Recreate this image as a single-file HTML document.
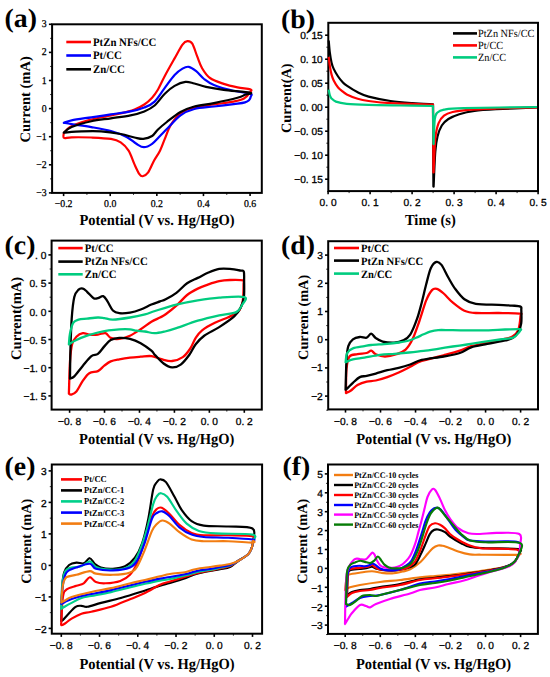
<!DOCTYPE html>
<html><head><meta charset="utf-8"><style>
html,body{margin:0;padding:0;background:#fff;}
svg{display:block;text-rendering:geometricPrecision;}
</style></head><body>
<svg width="550" height="677" viewBox="0 0 550 677">
<rect width="550" height="677" fill="#fff"/>
<rect x="52.1" y="24.3" width="209.7" height="168.6" fill="none" stroke="#000" stroke-width="2.0"/>
<line x1="63.6" y1="192.9" x2="63.6" y2="196.1" stroke="#000" stroke-width="1.6"/>
<line x1="110.22" y1="192.9" x2="110.22" y2="196.1" stroke="#000" stroke-width="1.6"/>
<line x1="156.84" y1="192.9" x2="156.84" y2="196.1" stroke="#000" stroke-width="1.6"/>
<line x1="203.46" y1="192.9" x2="203.46" y2="196.1" stroke="#000" stroke-width="1.6"/>
<line x1="250.08" y1="192.9" x2="250.08" y2="196.1" stroke="#000" stroke-width="1.6"/>
<line x1="86.91" y1="192.9" x2="86.91" y2="194.9" stroke="#000" stroke-width="0.8"/>
<line x1="133.53" y1="192.9" x2="133.53" y2="194.9" stroke="#000" stroke-width="0.8"/>
<line x1="180.15" y1="192.9" x2="180.15" y2="194.9" stroke="#000" stroke-width="0.8"/>
<line x1="226.77" y1="192.9" x2="226.77" y2="194.9" stroke="#000" stroke-width="0.8"/>
<line x1="48.9" y1="192.9" x2="52.1" y2="192.9" stroke="#000" stroke-width="1.6"/>
<line x1="48.9" y1="164.8" x2="52.1" y2="164.8" stroke="#000" stroke-width="1.6"/>
<line x1="48.9" y1="136.7" x2="52.1" y2="136.7" stroke="#000" stroke-width="1.6"/>
<line x1="48.9" y1="108.6" x2="52.1" y2="108.6" stroke="#000" stroke-width="1.6"/>
<line x1="48.9" y1="80.5" x2="52.1" y2="80.5" stroke="#000" stroke-width="1.6"/>
<line x1="48.9" y1="52.4" x2="52.1" y2="52.4" stroke="#000" stroke-width="1.6"/>
<line x1="48.9" y1="24.3" x2="52.1" y2="24.3" stroke="#000" stroke-width="1.6"/>
<line x1="50.1" y1="178.85" x2="52.1" y2="178.85" stroke="#000" stroke-width="0.8"/>
<line x1="50.1" y1="150.75" x2="52.1" y2="150.75" stroke="#000" stroke-width="0.8"/>
<line x1="50.1" y1="122.65" x2="52.1" y2="122.65" stroke="#000" stroke-width="0.8"/>
<line x1="50.1" y1="94.55" x2="52.1" y2="94.55" stroke="#000" stroke-width="0.8"/>
<line x1="50.1" y1="66.45" x2="52.1" y2="66.45" stroke="#000" stroke-width="0.8"/>
<line x1="50.1" y1="38.35" x2="52.1" y2="38.35" stroke="#000" stroke-width="0.8"/>
<text transform="translate(63.6,207) scale(1,1.06)" x="0" y="0" font-family='"Liberation Serif", serif' font-size="9.8" font-weight="normal" text-anchor="middle" stroke="#000" stroke-width="0.25">−0.2</text>
<text transform="translate(110.22,207) scale(1,1.06)" x="0" y="0" font-family='"Liberation Serif", serif' font-size="9.8" font-weight="normal" text-anchor="middle" stroke="#000" stroke-width="0.25">0.0</text>
<text transform="translate(156.84,207) scale(1,1.06)" x="0" y="0" font-family='"Liberation Serif", serif' font-size="9.8" font-weight="normal" text-anchor="middle" stroke="#000" stroke-width="0.25">0.2</text>
<text transform="translate(203.46,207) scale(1,1.06)" x="0" y="0" font-family='"Liberation Serif", serif' font-size="9.8" font-weight="normal" text-anchor="middle" stroke="#000" stroke-width="0.25">0.4</text>
<text transform="translate(250.08,207) scale(1,1.06)" x="0" y="0" font-family='"Liberation Serif", serif' font-size="9.8" font-weight="normal" text-anchor="middle" stroke="#000" stroke-width="0.25">0.6</text>
<text transform="translate(46.6,195.9) scale(1,1.06)" x="0" y="0" font-family='"Liberation Serif", serif' font-size="9.8" font-weight="normal" text-anchor="end" stroke="#000" stroke-width="0.25">−3</text>
<text transform="translate(46.6,167.8) scale(1,1.06)" x="0" y="0" font-family='"Liberation Serif", serif' font-size="9.8" font-weight="normal" text-anchor="end" stroke="#000" stroke-width="0.25">−2</text>
<text transform="translate(46.6,139.7) scale(1,1.06)" x="0" y="0" font-family='"Liberation Serif", serif' font-size="9.8" font-weight="normal" text-anchor="end" stroke="#000" stroke-width="0.25">−1</text>
<text transform="translate(46.6,111.6) scale(1,1.06)" x="0" y="0" font-family='"Liberation Serif", serif' font-size="9.8" font-weight="normal" text-anchor="end" stroke="#000" stroke-width="0.25">0</text>
<text transform="translate(46.6,83.5) scale(1,1.06)" x="0" y="0" font-family='"Liberation Serif", serif' font-size="9.8" font-weight="normal" text-anchor="end" stroke="#000" stroke-width="0.25">1</text>
<text transform="translate(46.6,55.4) scale(1,1.06)" x="0" y="0" font-family='"Liberation Serif", serif' font-size="9.8" font-weight="normal" text-anchor="end" stroke="#000" stroke-width="0.25">2</text>
<text transform="translate(46.6,27.3) scale(1,1.06)" x="0" y="0" font-family='"Liberation Serif", serif' font-size="9.8" font-weight="normal" text-anchor="end" stroke="#000" stroke-width="0.25">3</text>
<text transform="translate(157,225.2) scale(1,1.06)" x="0" y="0" font-family='"Liberation Serif", serif' font-size="14.5" font-weight="bold" text-anchor="middle" >Potential (V vs. Hg/HgO)</text>
<text transform="translate(29.5,99.4) rotate(-90)" x="0" y="0" font-family='"Liberation Serif", serif' font-size="14.5" font-weight="bold" text-anchor="middle">Current (mA)</text>
<path d="M63.8,133 C64.78,132.02 66.75,128.9 69.7,127.1 C72.65,125.3 76.27,123.83 81.5,122.2 C86.73,120.57 94.57,118.77 101.1,117.3 C107.63,115.83 115.13,114.7 120.7,113.4 C126.27,112.1 130.57,110.98 134.5,109.5 C138.43,108.02 141.37,106.47 144.3,104.5 C147.23,102.53 149.82,100.2 152.1,97.7 C154.38,95.2 155.88,93.12 158,89.5 C160.12,85.88 162.03,81.18 164.8,76 C167.57,70.82 171.65,63.63 174.6,58.4 C177.55,53.17 180.37,47.48 182.5,44.6 C184.63,41.72 185.77,41.25 187.4,41.1 C189.03,40.95 190.67,41.15 192.3,43.7 C193.93,46.25 195.57,52.32 197.2,56.4 C198.83,60.48 199.97,64.6 202.1,68.2 C204.23,71.8 206.4,75.38 210,78 C213.6,80.62 219.12,82.33 223.7,83.9 C228.28,85.47 233.08,86.48 237.5,87.4 C241.92,88.32 248.05,88.67 250.2,89.4 C252.35,90.13 251.43,90.28 250.4,91.8 C249.37,93.32 246.82,96.87 244,98.5 C241.18,100.13 238.52,100.6 233.5,101.6 C228.48,102.6 220.43,103.52 213.9,104.5 C207.37,105.48 199.87,106.02 194.3,107.5 C188.73,108.98 184.43,110.47 180.5,113.4 C176.57,116.33 173.32,120.85 170.7,125.1 C168.08,129.35 166.58,134.63 164.8,138.9 C163.02,143.17 161.78,147.1 160,150.7 C158.22,154.3 156.07,156.9 154.1,160.5 C152.13,164.1 150.1,169.68 148.2,172.3 C146.3,174.92 144.17,175.88 142.7,176.2 C141.23,176.52 140.77,176.17 139.4,174.2 C138.03,172.23 136.3,168.32 134.5,164.4 C132.7,160.48 130.9,154.37 128.6,150.7 C126.3,147.03 123.65,144.37 120.7,142.4 C117.75,140.43 115.8,139.72 110.9,138.9 C106,138.08 97.85,137.77 91.3,137.5 C84.75,137.23 76.15,137.23 71.6,137.3 C67.05,137.37 65.3,138.62 64,137.9 C62.7,137.18 63.83,133.82 63.8,133" fill="none" stroke="#ff0000" stroke-width="2.2" stroke-linejoin="round" stroke-linecap="round"/>
<path d="M63.8,122.8 C65.1,122.38 67.02,121.22 71.6,120.3 C76.18,119.38 84.75,118.28 91.3,117.3 C97.85,116.32 104.37,115.38 110.9,114.4 C117.43,113.42 124.93,112.55 130.5,111.4 C136.07,110.25 140.28,109.13 144.3,107.5 C148.32,105.87 151.18,104.88 154.6,101.6 C158.02,98.32 161.47,92.23 164.8,87.8 C168.13,83.37 171.65,78.2 174.6,75 C177.55,71.8 180.13,69.97 182.5,68.6 C184.87,67.23 186.52,66.38 188.8,66.8 C191.08,67.22 193.65,69.07 196.2,71.1 C198.75,73.13 201.15,76.7 204.1,79 C207.05,81.3 209,82.93 213.9,84.9 C218.8,86.87 227.45,89.33 233.5,90.8 C239.55,92.27 247.32,92.75 250.2,93.7 C253.08,94.65 251,95.4 250.8,96.5 C250.6,97.6 249.97,99.32 249,100.3 C248.03,101.28 246.92,101.83 245,102.4 C243.08,102.97 242.68,103.02 237.5,103.7 C232.32,104.38 221.1,105.62 213.9,106.5 C206.7,107.38 199.87,107.53 194.3,109 C188.73,110.47 185.08,111.95 180.5,115.3 C175.92,118.65 170.22,125.65 166.8,129.1 C163.38,132.55 162.45,133.55 160,136 C157.55,138.45 154.78,141.93 152.1,143.8 C149.42,145.67 146.52,147.2 143.9,147.2 C141.28,147.2 139.28,145.52 136.4,143.8 C133.52,142.08 130.85,139.03 126.6,136.9 C122.35,134.77 116.78,132.63 110.9,131 C105.02,129.37 97.85,128.23 91.3,127.1 C84.75,125.97 76.18,124.92 71.6,124.2 C67.02,123.48 65.1,123.03 63.8,122.8" fill="none" stroke="#0000ff" stroke-width="2.2" stroke-linejoin="round" stroke-linecap="round"/>
<path d="M63.8,132.6 C65.1,131.68 67.02,129 71.6,127.1 C76.18,125.2 84.75,122.67 91.3,121.2 C97.85,119.73 104.37,119.28 110.9,118.3 C117.43,117.32 124.93,116.45 130.5,115.3 C136.07,114.15 140.28,113.03 144.3,111.4 C148.32,109.77 151.18,108.45 154.6,105.5 C158.02,102.55 161.47,96.97 164.8,93.7 C168.13,90.43 171.17,87.87 174.6,85.9 C178.03,83.93 182.12,82.3 185.4,81.9 C188.68,81.5 190.87,82.68 194.3,83.5 C197.73,84.32 201.1,85.75 206,86.8 C210.9,87.85 216.33,88.82 223.7,89.8 C231.07,90.78 246.65,91.87 250.2,92.7 C253.75,93.53 247.12,93.95 245,94.8 C242.88,95.65 242.68,96.42 237.5,97.8 C232.32,99.18 221.1,101.65 213.9,103.1 C206.7,104.55 199.87,105.02 194.3,106.5 C188.73,107.98 185.08,109.42 180.5,112 C175.92,114.58 170.55,119.08 166.8,122 C163.05,124.92 160.45,127.17 158,129.5 C155.55,131.83 154.55,134.43 152.1,136 C149.65,137.57 146.23,138.65 143.3,138.9 C140.37,139.15 138.27,138.32 134.5,137.5 C130.73,136.68 126.27,135.02 120.7,134 C115.13,132.98 107.63,131.83 101.1,131.4 C94.57,130.97 87.72,131.2 81.5,131.4 C75.28,131.6 66.75,132.4 63.8,132.6" fill="none" stroke="#000000" stroke-width="2.2" stroke-linejoin="round" stroke-linecap="round"/>
<line x1="66.3" y1="42" x2="91" y2="42" stroke="#ff0000" stroke-width="2.6"/>
<text transform="translate(93,45.5) scale(1,1.06)" x="0" y="0" font-family='"Liberation Serif", serif' font-size="10.8" font-weight="bold" text-anchor="start" >PtZn NFs/CC</text>
<line x1="66.3" y1="55.5" x2="91" y2="55.5" stroke="#0000ff" stroke-width="2.6"/>
<text transform="translate(93,59) scale(1,1.06)" x="0" y="0" font-family='"Liberation Serif", serif' font-size="10.8" font-weight="bold" text-anchor="start" >Pt/CC</text>
<line x1="66.3" y1="69.3" x2="91" y2="69.3" stroke="#000000" stroke-width="2.6"/>
<text transform="translate(93,72.8) scale(1,1.06)" x="0" y="0" font-family='"Liberation Serif", serif' font-size="10.8" font-weight="bold" text-anchor="start" >Zn/CC</text>
<text transform="translate(4.5,27.3) scale(1,0.965)" x="0" y="0" font-family='"Liberation Serif", serif' font-size="27.8" font-weight="bold" text-anchor="start" >(a)</text>
<rect x="328.3" y="22.8" width="209.7" height="168.3" fill="none" stroke="#000" stroke-width="2.0"/>
<line x1="328.1" y1="191.1" x2="328.1" y2="194.3" stroke="#000" stroke-width="1.6"/>
<line x1="370.1" y1="191.1" x2="370.1" y2="194.3" stroke="#000" stroke-width="1.6"/>
<line x1="412.1" y1="191.1" x2="412.1" y2="194.3" stroke="#000" stroke-width="1.6"/>
<line x1="454.1" y1="191.1" x2="454.1" y2="194.3" stroke="#000" stroke-width="1.6"/>
<line x1="496.1" y1="191.1" x2="496.1" y2="194.3" stroke="#000" stroke-width="1.6"/>
<line x1="538.1" y1="191.1" x2="538.1" y2="194.3" stroke="#000" stroke-width="1.6"/>
<line x1="349.1" y1="191.1" x2="349.1" y2="193.1" stroke="#000" stroke-width="0.8"/>
<line x1="391.1" y1="191.1" x2="391.1" y2="193.1" stroke="#000" stroke-width="0.8"/>
<line x1="433.1" y1="191.1" x2="433.1" y2="193.1" stroke="#000" stroke-width="0.8"/>
<line x1="475.1" y1="191.1" x2="475.1" y2="193.1" stroke="#000" stroke-width="0.8"/>
<line x1="517.1" y1="191.1" x2="517.1" y2="193.1" stroke="#000" stroke-width="0.8"/>
<line x1="325.1" y1="179.2" x2="328.3" y2="179.2" stroke="#000" stroke-width="1.6"/>
<line x1="325.1" y1="155.2" x2="328.3" y2="155.2" stroke="#000" stroke-width="1.6"/>
<line x1="325.1" y1="131.2" x2="328.3" y2="131.2" stroke="#000" stroke-width="1.6"/>
<line x1="325.1" y1="107.2" x2="328.3" y2="107.2" stroke="#000" stroke-width="1.6"/>
<line x1="325.1" y1="83.2" x2="328.3" y2="83.2" stroke="#000" stroke-width="1.6"/>
<line x1="325.1" y1="59.2" x2="328.3" y2="59.2" stroke="#000" stroke-width="1.6"/>
<line x1="325.1" y1="35.2" x2="328.3" y2="35.2" stroke="#000" stroke-width="1.6"/>
<line x1="326.3" y1="167.2" x2="328.3" y2="167.2" stroke="#000" stroke-width="0.8"/>
<line x1="326.3" y1="143.2" x2="328.3" y2="143.2" stroke="#000" stroke-width="0.8"/>
<line x1="326.3" y1="119.2" x2="328.3" y2="119.2" stroke="#000" stroke-width="0.8"/>
<line x1="326.3" y1="95.2" x2="328.3" y2="95.2" stroke="#000" stroke-width="0.8"/>
<line x1="326.3" y1="71.2" x2="328.3" y2="71.2" stroke="#000" stroke-width="0.8"/>
<line x1="326.3" y1="47.2" x2="328.3" y2="47.2" stroke="#000" stroke-width="0.8"/>
<text x="328.1" y="206" font-family='"Liberation Sans", sans-serif' font-size="10.2" font-weight="normal" text-anchor="middle" stroke="#000" stroke-width="0.3">0. 0</text>
<text x="370.1" y="206" font-family='"Liberation Sans", sans-serif' font-size="10.2" font-weight="normal" text-anchor="middle" stroke="#000" stroke-width="0.3">0. 1</text>
<text x="412.1" y="206" font-family='"Liberation Sans", sans-serif' font-size="10.2" font-weight="normal" text-anchor="middle" stroke="#000" stroke-width="0.3">0. 2</text>
<text x="454.1" y="206" font-family='"Liberation Sans", sans-serif' font-size="10.2" font-weight="normal" text-anchor="middle" stroke="#000" stroke-width="0.3">0. 3</text>
<text x="496.1" y="206" font-family='"Liberation Sans", sans-serif' font-size="10.2" font-weight="normal" text-anchor="middle" stroke="#000" stroke-width="0.3">0. 4</text>
<text x="538.1" y="206" font-family='"Liberation Sans", sans-serif' font-size="10.2" font-weight="normal" text-anchor="middle" stroke="#000" stroke-width="0.3">0. 5</text>
<text x="322.8" y="38.7" font-family='"Liberation Sans", sans-serif' font-size="10.2" font-weight="normal" text-anchor="end" stroke="#000" stroke-width="0.3">0. 15</text>
<text x="322.8" y="62.7" font-family='"Liberation Sans", sans-serif' font-size="10.2" font-weight="normal" text-anchor="end" stroke="#000" stroke-width="0.3">0. 10</text>
<text x="322.8" y="86.7" font-family='"Liberation Sans", sans-serif' font-size="10.2" font-weight="normal" text-anchor="end" stroke="#000" stroke-width="0.3">0. 05</text>
<text x="322.8" y="110.7" font-family='"Liberation Sans", sans-serif' font-size="10.2" font-weight="normal" text-anchor="end" stroke="#000" stroke-width="0.3">0. 00</text>
<text x="322.8" y="134.7" font-family='"Liberation Sans", sans-serif' font-size="10.2" font-weight="normal" text-anchor="end" stroke="#000" stroke-width="0.3">−0. 05</text>
<text x="322.8" y="158.7" font-family='"Liberation Sans", sans-serif' font-size="10.2" font-weight="normal" text-anchor="end" stroke="#000" stroke-width="0.3">−0. 10</text>
<text x="322.8" y="182.7" font-family='"Liberation Sans", sans-serif' font-size="10.2" font-weight="normal" text-anchor="end" stroke="#000" stroke-width="0.3">−0. 15</text>
<text transform="translate(430.4,224.6) scale(1,1.06)" x="0" y="0" font-family='"Liberation Serif", serif' font-size="14.5" font-weight="bold" text-anchor="middle" >Time (s)</text>
<text transform="translate(291.3,98.3) rotate(-90)" x="0" y="0" font-family='"Liberation Serif", serif' font-size="14.3" font-weight="bold" text-anchor="middle">Current(A)</text>
<path d="M328.7,40.5 C328.88,42.5 329.33,48.85 329.8,52.5 C330.27,56.15 330.85,59.67 331.5,62.4 C332.15,65.13 332.6,66.55 333.7,68.9 C334.8,71.25 336.63,74.32 338.1,76.5 C339.57,78.68 341.05,80.47 342.5,82 C343.95,83.53 344.27,83.98 346.8,85.7 C349.33,87.42 354.07,90.48 357.7,92.3 C361.33,94.12 363.13,95.15 368.6,96.6 C374.07,98.05 383.22,99.9 390.5,101 C397.78,102.1 405.22,102.65 412.3,103.2 C419.38,103.75 429.55,104.12 433,104.3 L433.4,186.6 L433.6,186.6 L433.6,186.6 C433.88,180.78 434.65,160.05 435.3,151.7 C435.95,143.35 436.42,140.87 437.5,136.5 C438.58,132.13 439.98,128.42 441.8,125.5 C443.62,122.58 445.48,120.88 448.4,119 C451.32,117.12 454.95,115.55 459.3,114.2 C463.65,112.85 468.32,111.73 474.5,110.9 C480.68,110.07 485.98,109.78 496.4,109.2 C506.82,108.62 530.23,107.7 537,107.4" fill="none" stroke="#000000" stroke-width="2.2" stroke-linejoin="round"/>
<path d="M328.7,56.9 C328.88,58.35 329.33,62.68 329.8,65.6 C330.27,68.52 330.85,71.92 331.5,74.4 C332.15,76.88 332.6,78.32 333.7,80.5 C334.8,82.68 336.63,85.68 338.1,87.5 C339.57,89.32 341.05,90.25 342.5,91.4 C343.95,92.55 344.27,93.17 346.8,94.4 C349.33,95.63 354.07,97.7 357.7,98.8 C361.33,99.9 363.13,100.27 368.6,101 C374.07,101.73 379.77,102.62 390.5,103.2 C401.23,103.78 425.92,104.28 433,104.5 L433.4,172.5 L433.6,172.5 L433.6,172.5 C433.88,166.85 434.48,146.78 435.3,138.6 C436.12,130.42 437.05,127.22 438.5,123.4 C439.95,119.58 441.63,117.6 444,115.7 C446.37,113.8 448.7,112.98 452.7,112 C456.7,111.02 460.72,110.38 468,109.8 C475.28,109.22 484.9,108.9 496.4,108.5 C507.9,108.1 530.23,107.58 537,107.4" fill="none" stroke="#ff0000" stroke-width="2.2" stroke-linejoin="round"/>
<path d="M328.7,89.6 C328.88,90.52 329.33,93.63 329.8,95.1 C330.27,96.57 330.48,97.32 331.5,98.4 C332.52,99.48 333.35,100.7 335.9,101.6 C338.45,102.5 341.35,103.25 346.8,103.8 C352.25,104.35 359.73,104.62 368.6,104.9 C377.47,105.18 389.27,105.32 400,105.5 C410.73,105.68 427.5,105.92 433,106 L433.4,144.1 L433.6,144.1 L433.6,144.1 C433.8,139.92 434.15,124.27 434.8,119 C435.45,113.73 435.97,114.07 437.5,112.5 C439.03,110.93 439.65,110.33 444,109.6 C448.35,108.87 448.1,108.53 463.6,108.1 C479.1,107.67 524.77,107.18 537,107" fill="none" stroke="#00cc7f" stroke-width="2.2" stroke-linejoin="round"/>
<line x1="453" y1="33.4" x2="477" y2="33.4" stroke="#000000" stroke-width="2.6"/>
<text transform="translate(478,37.3) scale(1,1.06)" x="0" y="0" font-family='"Liberation Serif", serif' font-size="10.3" font-weight="normal" text-anchor="start" >PtZn NFs/CC</text>
<line x1="453" y1="45.4" x2="477" y2="45.4" stroke="#ff0000" stroke-width="2.6"/>
<text transform="translate(478,49.3) scale(1,1.06)" x="0" y="0" font-family='"Liberation Serif", serif' font-size="10.3" font-weight="normal" text-anchor="start" >Pt/CC</text>
<line x1="453" y1="57.4" x2="477" y2="57.4" stroke="#00cc7f" stroke-width="2.6"/>
<text transform="translate(478,61.3) scale(1,1.06)" x="0" y="0" font-family='"Liberation Serif", serif' font-size="10.3" font-weight="normal" text-anchor="start" >Zn/CC</text>
<text transform="translate(281,28.2) scale(1,0.965)" x="0" y="0" font-family='"Liberation Serif", serif' font-size="27.8" font-weight="bold" text-anchor="start" >(b)</text>
<rect x="51.6" y="240.6" width="210.2" height="169" fill="none" stroke="#000" stroke-width="2.0"/>
<line x1="69.6" y1="409.6" x2="69.6" y2="412.8" stroke="#000" stroke-width="1.6"/>
<line x1="104.54" y1="409.6" x2="104.54" y2="412.8" stroke="#000" stroke-width="1.6"/>
<line x1="139.48" y1="409.6" x2="139.48" y2="412.8" stroke="#000" stroke-width="1.6"/>
<line x1="174.42" y1="409.6" x2="174.42" y2="412.8" stroke="#000" stroke-width="1.6"/>
<line x1="209.36" y1="409.6" x2="209.36" y2="412.8" stroke="#000" stroke-width="1.6"/>
<line x1="244.3" y1="409.6" x2="244.3" y2="412.8" stroke="#000" stroke-width="1.6"/>
<line x1="87.07" y1="409.6" x2="87.07" y2="411.6" stroke="#000" stroke-width="0.8"/>
<line x1="122.01" y1="409.6" x2="122.01" y2="411.6" stroke="#000" stroke-width="0.8"/>
<line x1="156.95" y1="409.6" x2="156.95" y2="411.6" stroke="#000" stroke-width="0.8"/>
<line x1="191.89" y1="409.6" x2="191.89" y2="411.6" stroke="#000" stroke-width="0.8"/>
<line x1="226.83" y1="409.6" x2="226.83" y2="411.6" stroke="#000" stroke-width="0.8"/>
<line x1="48.4" y1="254.9" x2="51.6" y2="254.9" stroke="#000" stroke-width="1.6"/>
<line x1="48.4" y1="283.1" x2="51.6" y2="283.1" stroke="#000" stroke-width="1.6"/>
<line x1="48.4" y1="311.3" x2="51.6" y2="311.3" stroke="#000" stroke-width="1.6"/>
<line x1="48.4" y1="339.5" x2="51.6" y2="339.5" stroke="#000" stroke-width="1.6"/>
<line x1="48.4" y1="367.7" x2="51.6" y2="367.7" stroke="#000" stroke-width="1.6"/>
<line x1="48.4" y1="395.9" x2="51.6" y2="395.9" stroke="#000" stroke-width="1.6"/>
<line x1="49.6" y1="269" x2="51.6" y2="269" stroke="#000" stroke-width="0.8"/>
<line x1="49.6" y1="297.2" x2="51.6" y2="297.2" stroke="#000" stroke-width="0.8"/>
<line x1="49.6" y1="325.4" x2="51.6" y2="325.4" stroke="#000" stroke-width="0.8"/>
<line x1="49.6" y1="353.6" x2="51.6" y2="353.6" stroke="#000" stroke-width="0.8"/>
<line x1="49.6" y1="381.8" x2="51.6" y2="381.8" stroke="#000" stroke-width="0.8"/>
<text x="69.6" y="425" font-family='"Liberation Sans", sans-serif' font-size="10.2" font-weight="normal" text-anchor="middle" stroke="#000" stroke-width="0.3">−0. 8</text>
<text x="104.54" y="425" font-family='"Liberation Sans", sans-serif' font-size="10.2" font-weight="normal" text-anchor="middle" stroke="#000" stroke-width="0.3">−0. 6</text>
<text x="139.48" y="425" font-family='"Liberation Sans", sans-serif' font-size="10.2" font-weight="normal" text-anchor="middle" stroke="#000" stroke-width="0.3">−0. 4</text>
<text x="174.42" y="425" font-family='"Liberation Sans", sans-serif' font-size="10.2" font-weight="normal" text-anchor="middle" stroke="#000" stroke-width="0.3">−0. 2</text>
<text x="209.36" y="425" font-family='"Liberation Sans", sans-serif' font-size="10.2" font-weight="normal" text-anchor="middle" stroke="#000" stroke-width="0.3">0. 0</text>
<text x="244.3" y="425" font-family='"Liberation Sans", sans-serif' font-size="10.2" font-weight="normal" text-anchor="middle" stroke="#000" stroke-width="0.3">0. 2</text>
<text x="46.4" y="287.3" font-family='"Liberation Sans", sans-serif' font-size="10.2" font-weight="normal" text-anchor="end" stroke="#000" stroke-width="0.3">0. 5</text>
<text x="46.4" y="315.5" font-family='"Liberation Sans", sans-serif' font-size="10.2" font-weight="normal" text-anchor="end" stroke="#000" stroke-width="0.3">0. 0</text>
<text x="46.4" y="343.7" font-family='"Liberation Sans", sans-serif' font-size="10.2" font-weight="normal" text-anchor="end" stroke="#000" stroke-width="0.3">−0. 5</text>
<text x="46.4" y="371.9" font-family='"Liberation Sans", sans-serif' font-size="10.2" font-weight="normal" text-anchor="end" stroke="#000" stroke-width="0.3">−1. 0</text>
<text x="46.4" y="400.1" font-family='"Liberation Sans", sans-serif' font-size="10.2" font-weight="normal" text-anchor="end" stroke="#000" stroke-width="0.3">−1. 5</text>
<text transform="translate(156.7,443.6) scale(1,1.06)" x="0" y="0" font-family='"Liberation Serif", serif' font-size="14.5" font-weight="bold" text-anchor="middle" >Potential (V vs. Hg/HgO)</text>
<text transform="translate(20.9,318.4) rotate(-90)" x="0" y="0" font-family='"Liberation Serif", serif' font-size="14.6" font-weight="bold" text-anchor="middle">Current(mA)</text>
<path d="M68.9,393.6 C69.08,388.23 69.47,369.62 70,361.4 C70.53,353.18 71.03,348.4 72.1,344.3 C73.17,340.2 74.6,338.67 76.4,336.8 C78.2,334.93 80.75,333.47 82.9,333.1 C85.05,332.73 86.8,334.35 89.3,334.6 C91.8,334.85 95.22,334.85 97.9,334.6 C100.58,334.35 103.27,332.55 105.4,333.1 C107.53,333.65 108.38,336.93 110.7,337.9 C113.02,338.87 116.08,339.27 119.3,338.9 C122.52,338.53 126.43,337.3 130,335.7 C133.57,334.1 137.13,331.62 140.7,329.3 C144.27,326.98 148.18,323.77 151.4,321.8 C154.62,319.83 157.62,318.75 160,317.5 C162.38,316.25 162.97,316.27 165.7,314.3 C168.43,312.33 172.83,308.92 176.4,305.7 C179.97,302.48 183.53,297.85 187.1,295 C190.67,292.15 194.23,290.38 197.8,288.6 C201.37,286.82 204.93,285.55 208.5,284.3 C212.07,283.05 215.63,281.82 219.2,281.1 C222.77,280.38 225.98,280.12 229.9,280 C233.82,279.88 240.42,279.73 242.7,280.4 C244.98,281.07 243.6,280.5 243.6,284 C243.6,287.5 243.38,297.07 242.7,301.4 C242.02,305.73 240.92,307.85 239.5,310 C238.08,312.15 236.15,313.05 234.2,314.3 C232.25,315.55 231.02,316.08 227.8,317.5 C224.58,318.92 219.18,320.67 214.9,322.8 C210.62,324.93 205.3,327.8 202.1,330.3 C198.9,332.8 197.67,334.77 195.7,337.8 C193.73,340.83 192.45,345.28 190.3,348.5 C188.15,351.72 185.83,355.02 182.8,357.1 C179.77,359.18 175.67,360.65 172.1,361 C168.53,361.35 164.85,360.02 161.4,359.2 C157.95,358.38 154.85,356.52 151.4,356.1 C147.95,355.68 144.27,356.45 140.7,356.7 C137.13,356.95 133.57,357.17 130,357.6 C126.43,358.03 122.52,358.67 119.3,359.3 C116.08,359.93 113.2,360.33 110.7,361.4 C108.2,362.47 106.43,364.08 104.3,365.7 C102.17,367.32 100.4,369.85 97.9,371.1 C95.4,372.35 91.8,371.6 89.3,373.2 C86.8,374.8 85.05,377.67 82.9,380.7 C80.75,383.73 78.37,389.08 76.4,391.4 C74.43,393.72 72.35,394.23 71.1,394.6 C69.85,394.97 69.27,393.77 68.9,393.6" fill="none" stroke="#ff0000" stroke-width="2.3" stroke-linejoin="round" stroke-linecap="round"/>
<path d="M70,378.6 C70.07,373.95 70.12,360.7 70.4,350.7 C70.68,340.7 71.05,327.53 71.7,318.6 C72.35,309.67 73.15,301.93 74.3,297.1 C75.45,292.27 77.17,291.02 78.6,289.6 C80.03,288.18 81.48,288.23 82.9,288.6 C84.32,288.97 85.32,290.2 87.1,291.8 C88.88,293.4 91.8,297.13 93.6,298.2 C95.4,299.27 96.3,298.55 97.9,298.2 C99.5,297.85 101.6,295.57 103.2,296.1 C104.8,296.63 105.88,299 107.5,301.4 C109.12,303.8 110.93,308.53 112.9,310.5 C114.87,312.47 116.45,312.85 119.3,313.2 C122.15,313.55 126.43,313.22 130,312.6 C133.57,311.98 137.13,310.85 140.7,309.5 C144.27,308.15 148.18,305.85 151.4,304.5 C154.62,303.15 157.62,302.27 160,301.4 C162.38,300.53 162.97,300.73 165.7,299.3 C168.43,297.87 172.83,295.48 176.4,292.8 C179.97,290.12 183.53,285.68 187.1,283.2 C190.67,280.72 194.23,279.68 197.8,277.9 C201.37,276.12 204.93,274 208.5,272.5 C212.07,271 215.63,269.5 219.2,268.9 C222.77,268.3 226.33,268.62 229.9,268.9 C233.47,269.18 238.28,270.15 240.6,270.6 C242.92,271.05 243.22,270.03 243.8,271.6 C244.38,273.17 244.08,275.75 244.1,280 C244.12,284.25 244.48,292.47 243.9,297.1 C243.32,301.73 242.22,304.58 240.6,307.8 C238.98,311.02 237.77,313.18 234.2,316.4 C230.63,319.62 224.2,323.88 219.2,327.1 C214.2,330.32 208.12,332.85 204.2,335.7 C200.28,338.55 198.2,340.98 195.7,344.2 C193.2,347.42 191.7,351.6 189.2,355 C186.7,358.4 183.55,362.53 180.7,364.6 C177.85,366.67 174.95,367.58 172.1,367.4 C169.25,367.22 166.45,365.57 163.6,363.5 C160.75,361.43 157.03,357.13 155,355 C152.97,352.87 153.78,352.67 151.4,350.7 C149.02,348.73 144.27,345.17 140.7,343.2 C137.13,341.23 133.57,339.78 130,338.9 C126.43,338.02 122.52,337.72 119.3,337.9 C116.08,338.08 113.2,338.58 110.7,340 C108.2,341.42 106.43,344.08 104.3,346.4 C102.17,348.72 100.05,352.28 97.9,353.9 C95.75,355.52 93.9,354.13 91.4,356.1 C88.9,358.07 85.75,362.32 82.9,365.7 C80.05,369.08 76.45,374.25 74.3,376.4 C72.15,378.55 70.72,378.23 70,378.6" fill="none" stroke="#000000" stroke-width="2.3" stroke-linejoin="round" stroke-linecap="round"/>
<path d="M68.9,344.3 C69.08,342.52 69.28,337.17 70,333.6 C70.72,330.03 71.77,325.23 73.2,322.9 C74.63,320.57 76.28,320.32 78.6,319.6 C80.92,318.88 83.88,318.95 87.1,318.6 C90.32,318.25 95.03,317.58 97.9,317.5 C100.77,317.42 101.8,317.75 104.3,318.1 C106.8,318.45 108.62,319.7 112.9,319.6 C117.18,319.5 124.65,318.38 130,317.5 C135.35,316.62 140.83,315.38 145,314.3 C149.17,313.22 149.77,312.62 155,311 C160.23,309.38 169.27,306.38 176.4,304.6 C183.53,302.82 190.67,301.47 197.8,300.3 C204.93,299.13 211.42,298.13 219.2,297.6 C226.98,297.07 240.7,295.87 244.5,297.1 C248.3,298.33 243.37,302.5 242,305 C240.63,307.5 240.1,310.38 236.3,312.1 C232.5,313.82 225.62,313.87 219.2,315.3 C212.78,316.73 204.93,318.55 197.8,320.7 C190.67,322.85 181.87,326.4 176.4,328.2 C170.93,330 168.65,330.67 165,331.5 C161.35,332.33 157.83,333.2 154.5,333.2 C151.17,333.2 148.02,331.92 145,331.5 C141.98,331.08 138.9,331.07 136.4,330.7 C133.9,330.33 132.85,329.53 130,329.3 C127.15,329.07 122.87,329.12 119.3,329.3 C115.73,329.48 112.17,329.87 108.6,330.4 C105.03,330.93 101.48,331.62 97.9,332.5 C94.32,333.38 90.68,334.45 87.1,335.7 C83.52,336.95 79.43,338.57 76.4,340 C73.37,341.43 70.15,343.58 68.9,344.3" fill="none" stroke="#00cc7f" stroke-width="2.3" stroke-linejoin="round" stroke-linecap="round"/>
<line x1="58.3" y1="248.1" x2="82.7" y2="248.1" stroke="#ff0000" stroke-width="2.6"/>
<text transform="translate(84.8,251.9) scale(1,1.06)" x="0" y="0" font-family='"Liberation Serif", serif' font-size="10.75" font-weight="bold" text-anchor="start" >Pt/CC</text>
<line x1="58.3" y1="261.6" x2="82.7" y2="261.6" stroke="#000000" stroke-width="2.6"/>
<text transform="translate(84.8,265.4) scale(1,1.06)" x="0" y="0" font-family='"Liberation Serif", serif' font-size="10.75" font-weight="bold" text-anchor="start" >PtZn NFs/CC</text>
<line x1="58.3" y1="274.3" x2="82.7" y2="274.3" stroke="#00cc7f" stroke-width="2.6"/>
<text transform="translate(84.8,278.1) scale(1,1.06)" x="0" y="0" font-family='"Liberation Serif", serif' font-size="10.75" font-weight="bold" text-anchor="start" >Zn/CC</text>
<text x="46.4" y="259.1" font-family='"Liberation Sans", sans-serif' font-size="10.2" font-weight="normal" text-anchor="end" stroke="#000" stroke-width="0.3">. 0</text>
<text transform="translate(4.6,254.1) scale(1,0.965)" x="0" y="0" font-family='"Liberation Serif", serif' font-size="27.8" font-weight="bold" text-anchor="start" >(c)</text>
<rect x="328.2" y="241.2" width="209.8" height="168.2" fill="none" stroke="#000" stroke-width="2.0"/>
<line x1="345.5" y1="409.4" x2="345.5" y2="412.6" stroke="#000" stroke-width="1.6"/>
<line x1="380.52" y1="409.4" x2="380.52" y2="412.6" stroke="#000" stroke-width="1.6"/>
<line x1="415.54" y1="409.4" x2="415.54" y2="412.6" stroke="#000" stroke-width="1.6"/>
<line x1="450.56" y1="409.4" x2="450.56" y2="412.6" stroke="#000" stroke-width="1.6"/>
<line x1="485.58" y1="409.4" x2="485.58" y2="412.6" stroke="#000" stroke-width="1.6"/>
<line x1="520.6" y1="409.4" x2="520.6" y2="412.6" stroke="#000" stroke-width="1.6"/>
<line x1="363.01" y1="409.4" x2="363.01" y2="411.4" stroke="#000" stroke-width="0.8"/>
<line x1="398.03" y1="409.4" x2="398.03" y2="411.4" stroke="#000" stroke-width="0.8"/>
<line x1="433.05" y1="409.4" x2="433.05" y2="411.4" stroke="#000" stroke-width="0.8"/>
<line x1="468.07" y1="409.4" x2="468.07" y2="411.4" stroke="#000" stroke-width="0.8"/>
<line x1="503.09" y1="409.4" x2="503.09" y2="411.4" stroke="#000" stroke-width="0.8"/>
<line x1="325" y1="255.1" x2="328.2" y2="255.1" stroke="#000" stroke-width="1.6"/>
<line x1="325" y1="283.3" x2="328.2" y2="283.3" stroke="#000" stroke-width="1.6"/>
<line x1="325" y1="311.5" x2="328.2" y2="311.5" stroke="#000" stroke-width="1.6"/>
<line x1="325" y1="339.7" x2="328.2" y2="339.7" stroke="#000" stroke-width="1.6"/>
<line x1="325" y1="367.9" x2="328.2" y2="367.9" stroke="#000" stroke-width="1.6"/>
<line x1="325" y1="396.1" x2="328.2" y2="396.1" stroke="#000" stroke-width="1.6"/>
<line x1="326.2" y1="269.2" x2="328.2" y2="269.2" stroke="#000" stroke-width="0.8"/>
<line x1="326.2" y1="297.4" x2="328.2" y2="297.4" stroke="#000" stroke-width="0.8"/>
<line x1="326.2" y1="325.6" x2="328.2" y2="325.6" stroke="#000" stroke-width="0.8"/>
<line x1="326.2" y1="353.8" x2="328.2" y2="353.8" stroke="#000" stroke-width="0.8"/>
<line x1="326.2" y1="382" x2="328.2" y2="382" stroke="#000" stroke-width="0.8"/>
<line x1="326.2" y1="410.2" x2="328.2" y2="410.2" stroke="#000" stroke-width="0.8"/>
<text x="345.5" y="425" font-family='"Liberation Sans", sans-serif' font-size="10.2" font-weight="normal" text-anchor="middle" stroke="#000" stroke-width="0.3">−0. 8</text>
<text x="380.52" y="425" font-family='"Liberation Sans", sans-serif' font-size="10.2" font-weight="normal" text-anchor="middle" stroke="#000" stroke-width="0.3">−0. 6</text>
<text x="415.54" y="425" font-family='"Liberation Sans", sans-serif' font-size="10.2" font-weight="normal" text-anchor="middle" stroke="#000" stroke-width="0.3">−0. 4</text>
<text x="450.56" y="425" font-family='"Liberation Sans", sans-serif' font-size="10.2" font-weight="normal" text-anchor="middle" stroke="#000" stroke-width="0.3">−0. 2</text>
<text x="485.58" y="425" font-family='"Liberation Sans", sans-serif' font-size="10.2" font-weight="normal" text-anchor="middle" stroke="#000" stroke-width="0.3">0. 0</text>
<text x="520.6" y="425" font-family='"Liberation Sans", sans-serif' font-size="10.2" font-weight="normal" text-anchor="middle" stroke="#000" stroke-width="0.3">0. 2</text>
<text x="322.8" y="258.6" font-family='"Liberation Sans", sans-serif' font-size="10.2" font-weight="normal" text-anchor="end" stroke="#000" stroke-width="0.3">3</text>
<text x="322.8" y="286.8" font-family='"Liberation Sans", sans-serif' font-size="10.2" font-weight="normal" text-anchor="end" stroke="#000" stroke-width="0.3">2</text>
<text x="322.8" y="315" font-family='"Liberation Sans", sans-serif' font-size="10.2" font-weight="normal" text-anchor="end" stroke="#000" stroke-width="0.3">1</text>
<text x="322.8" y="343.2" font-family='"Liberation Sans", sans-serif' font-size="10.2" font-weight="normal" text-anchor="end" stroke="#000" stroke-width="0.3">0</text>
<text x="322.8" y="371.4" font-family='"Liberation Sans", sans-serif' font-size="10.2" font-weight="normal" text-anchor="end" stroke="#000" stroke-width="0.3">−1</text>
<text x="322.8" y="399.6" font-family='"Liberation Sans", sans-serif' font-size="10.2" font-weight="normal" text-anchor="end" stroke="#000" stroke-width="0.3">−2</text>
<text transform="translate(433.8,443.7) scale(1,1.06)" x="0" y="0" font-family='"Liberation Serif", serif' font-size="14.5" font-weight="bold" text-anchor="middle" >Potential (V vs. Hg/HgO)</text>
<text transform="translate(307.5,317.4) rotate(-90)" x="0" y="0" font-family='"Liberation Serif", serif' font-size="14.3" font-weight="bold" text-anchor="middle">Current (mA)</text>
<path d="M346,393.1 C346.08,389.08 345.92,375.1 346.5,369 C347.08,362.9 347.67,358.97 349.5,356.5 C351.33,354.03 354.63,354.78 357.5,354.2 C360.37,353.62 364.42,353.58 366.7,353 C368.98,352.42 369.68,350.5 371.2,350.7 C372.72,350.9 373.5,353.23 375.8,354.2 C378.1,355.17 381.55,356.5 385,356.5 C388.45,356.5 393.07,355.35 396.5,354.2 C399.93,353.05 402.93,352.08 405.6,349.6 C408.27,347.12 410.2,344.07 412.5,339.3 C414.8,334.53 417.12,327.48 419.4,321 C421.68,314.52 424.1,305.55 426.2,300.4 C428.3,295.25 430.22,292.02 432,290.1 C433.78,288.18 434.95,288.33 436.9,288.9 C438.85,289.47 441.03,291.2 443.7,293.5 C446.37,295.8 449.45,299.83 452.9,302.7 C456.35,305.57 460.58,308.98 464.4,310.7 C468.22,312.42 470.08,312.62 475.8,313 C481.52,313.38 491.43,312.9 498.7,313 C505.97,313.1 515.77,313.1 519.4,313.6 C523.03,314.1 520.7,313.25 520.5,316 C520.3,318.75 519.53,326.68 518.2,330.1 C516.87,333.52 514.98,334.97 512.5,336.5 C510.02,338.03 507.5,338.27 503.3,339.3 C499.1,340.33 492.65,341.55 487.3,342.7 C481.95,343.85 475.78,344.87 471.2,346.2 C466.62,347.53 464.38,349.18 459.8,350.7 C455.22,352.22 450.05,353.58 443.7,355.3 C437.35,357.02 427.28,359.08 421.7,361 C416.12,362.92 414.03,364.88 410.2,366.8 C406.37,368.72 402.52,370.78 398.7,372.5 C394.88,374.22 391.12,375.77 387.3,377.1 C383.48,378.43 379.23,379.75 375.8,380.5 C372.37,381.25 369.75,380.83 366.7,381.6 C363.65,382.37 360.18,383.57 357.5,385.1 C354.82,386.63 352.52,389.47 350.6,390.8 C348.68,392.13 346.77,392.72 346,393.1" fill="none" stroke="#ff0000" stroke-width="2.3" stroke-linejoin="round" stroke-linecap="round"/>
<path d="M345.6,389.7 C345.75,384.73 346.05,367.15 346.5,359.9 C346.95,352.65 347.23,349.63 348.3,346.2 C349.37,342.77 350.98,340.83 352.9,339.3 C354.82,337.77 357.5,337.27 359.8,337 C362.1,336.73 364.8,338.27 366.7,337.7 C368.6,337.13 369.68,333.53 371.2,333.6 C372.72,333.67 373.88,336.77 375.8,338.1 C377.72,339.43 379.63,340.83 382.7,341.6 C385.77,342.37 390.77,342.9 394.2,342.7 C397.63,342.5 400.63,341.73 403.3,340.4 C405.97,339.07 407.9,338.32 410.2,334.7 C412.5,331.08 415.18,324.03 417.1,318.7 C419.02,313.37 420.18,308.43 421.7,302.7 C423.22,296.97 424.68,290.03 426.2,284.3 C427.72,278.57 429.1,272.03 430.8,268.3 C432.5,264.57 434.62,262.47 436.4,261.9 C438.18,261.33 439.52,262.3 441.5,264.9 C443.48,267.5 446.02,273.5 448.3,277.5 C450.58,281.5 452.52,285.28 455.2,288.9 C457.88,292.52 460.97,296.72 464.4,299.2 C467.83,301.68 470.08,302.85 475.8,303.8 C481.52,304.75 492.67,304.6 498.7,304.9 C504.73,305.2 508.37,305.32 512,305.6 C515.63,305.88 518.95,305.87 520.5,306.6 C522.05,307.33 521.18,307.22 521.3,310 C521.42,312.78 521.72,319.57 521.2,323.3 C520.68,327.03 519.65,329.93 518.2,332.4 C516.75,334.87 514.6,336.77 512.5,338.1 C510.4,339.43 509.8,339.43 505.6,340.4 C501.4,341.37 493.03,342.75 487.3,343.9 C481.57,345.05 475.78,345.78 471.2,347.3 C466.62,348.82 464.38,351.47 459.8,353 C455.22,354.53 450.05,355.35 443.7,356.5 C437.35,357.65 427.28,358.57 421.7,359.9 C416.12,361.23 414.03,363.17 410.2,364.5 C406.37,365.83 402.52,366.95 398.7,367.9 C394.88,368.85 391.12,369.25 387.3,370.2 C383.48,371.15 379.23,372.65 375.8,373.6 C372.37,374.55 369.37,375.32 366.7,375.9 C364.03,376.48 362.1,375.95 359.8,377.1 C357.5,378.25 354.82,381.08 352.9,382.8 C350.98,384.52 349.52,386.25 348.3,387.4 C347.08,388.55 346.05,389.32 345.6,389.7" fill="none" stroke="#000000" stroke-width="2.3" stroke-linejoin="round" stroke-linecap="round"/>
<path d="M345.6,362.2 C345.87,360.67 345.98,355.3 347.2,353 C348.42,350.7 350.03,349.53 352.9,348.4 C355.77,347.27 361.35,346.77 364.4,346.2 C367.45,345.63 367.38,345.38 371.2,345 C375.02,344.62 382.72,344.32 387.3,343.9 C391.88,343.48 395.07,343.07 398.7,342.5 C402.33,341.93 406.22,341.28 409.1,340.5 C411.98,339.72 413.58,338.83 416,337.8 C418.42,336.77 421.27,335.33 423.6,334.3 C425.93,333.27 427.57,332.3 430,331.6 C432.43,330.9 434.42,330.33 438.2,330.1 C441.98,329.87 445.43,330.15 452.7,330.2 C459.97,330.25 473.08,330.52 481.8,330.4 C490.52,330.28 498.7,329.72 505,329.5 C511.3,329.28 517.05,328.93 519.6,329.1 C522.15,329.27 520.73,329.6 520.3,330.5 C519.87,331.4 518.32,333.28 517,334.5 C515.68,335.72 515.23,336.97 512.4,337.8 C509.57,338.63 505.1,338.77 500,339.5 C494.9,340.23 487.3,341.37 481.8,342.2 C476.3,343.03 471.85,343.78 467,344.5 C462.15,345.22 457.53,345.78 452.7,346.5 C447.87,347.22 442.85,348.07 438,348.8 C433.15,349.53 428.43,350.28 423.6,350.9 C418.77,351.52 413.85,352.02 409,352.5 C404.15,352.98 399.33,353.4 394.5,353.8 C389.67,354.2 385.02,354.27 380,354.9 C374.98,355.53 368.92,356.85 364.4,357.6 C359.88,358.35 356.03,358.63 352.9,359.4 C349.77,360.17 346.82,361.73 345.6,362.2" fill="none" stroke="#00cc7f" stroke-width="2.3" stroke-linejoin="round" stroke-linecap="round"/>
<line x1="334" y1="248" x2="359" y2="248" stroke="#ff0000" stroke-width="2.6"/>
<text transform="translate(361,251.9) scale(1,1.06)" x="0" y="0" font-family='"Liberation Serif", serif' font-size="10.6" font-weight="bold" text-anchor="start" >Pt/CC</text>
<line x1="334" y1="260.6" x2="359" y2="260.6" stroke="#000000" stroke-width="2.6"/>
<text transform="translate(361,264.5) scale(1,1.06)" x="0" y="0" font-family='"Liberation Serif", serif' font-size="10.6" font-weight="bold" text-anchor="start" >PtZn NFs/CC</text>
<line x1="334" y1="273.6" x2="359" y2="273.6" stroke="#00cc7f" stroke-width="2.6"/>
<text transform="translate(361,277.5) scale(1,1.06)" x="0" y="0" font-family='"Liberation Serif", serif' font-size="10.6" font-weight="bold" text-anchor="start" >Zn/CC</text>
<text transform="translate(281,254.1) scale(1,0.965)" x="0" y="0" font-family='"Liberation Serif", serif' font-size="27.8" font-weight="bold" text-anchor="start" >(d)</text>
<rect x="51.8" y="464.5" width="210.3" height="169.2" fill="none" stroke="#000" stroke-width="2.0"/>
<line x1="61.3" y1="633.7" x2="61.3" y2="636.9" stroke="#000" stroke-width="1.6"/>
<line x1="99.54" y1="633.7" x2="99.54" y2="636.9" stroke="#000" stroke-width="1.6"/>
<line x1="137.78" y1="633.7" x2="137.78" y2="636.9" stroke="#000" stroke-width="1.6"/>
<line x1="176.02" y1="633.7" x2="176.02" y2="636.9" stroke="#000" stroke-width="1.6"/>
<line x1="214.26" y1="633.7" x2="214.26" y2="636.9" stroke="#000" stroke-width="1.6"/>
<line x1="252.5" y1="633.7" x2="252.5" y2="636.9" stroke="#000" stroke-width="1.6"/>
<line x1="80.42" y1="633.7" x2="80.42" y2="635.7" stroke="#000" stroke-width="0.8"/>
<line x1="118.66" y1="633.7" x2="118.66" y2="635.7" stroke="#000" stroke-width="0.8"/>
<line x1="156.9" y1="633.7" x2="156.9" y2="635.7" stroke="#000" stroke-width="0.8"/>
<line x1="195.14" y1="633.7" x2="195.14" y2="635.7" stroke="#000" stroke-width="0.8"/>
<line x1="233.38" y1="633.7" x2="233.38" y2="635.7" stroke="#000" stroke-width="0.8"/>
<line x1="48.6" y1="470.9" x2="51.8" y2="470.9" stroke="#000" stroke-width="1.6"/>
<line x1="48.6" y1="502.4" x2="51.8" y2="502.4" stroke="#000" stroke-width="1.6"/>
<line x1="48.6" y1="533.9" x2="51.8" y2="533.9" stroke="#000" stroke-width="1.6"/>
<line x1="48.6" y1="565.4" x2="51.8" y2="565.4" stroke="#000" stroke-width="1.6"/>
<line x1="48.6" y1="596.9" x2="51.8" y2="596.9" stroke="#000" stroke-width="1.6"/>
<line x1="48.6" y1="628.4" x2="51.8" y2="628.4" stroke="#000" stroke-width="1.6"/>
<line x1="49.8" y1="486.65" x2="51.8" y2="486.65" stroke="#000" stroke-width="0.8"/>
<line x1="49.8" y1="518.15" x2="51.8" y2="518.15" stroke="#000" stroke-width="0.8"/>
<line x1="49.8" y1="549.65" x2="51.8" y2="549.65" stroke="#000" stroke-width="0.8"/>
<line x1="49.8" y1="581.15" x2="51.8" y2="581.15" stroke="#000" stroke-width="0.8"/>
<line x1="49.8" y1="612.65" x2="51.8" y2="612.65" stroke="#000" stroke-width="0.8"/>
<text x="61.3" y="649" font-family='"Liberation Sans", sans-serif' font-size="10.2" font-weight="normal" text-anchor="middle" stroke="#000" stroke-width="0.3">−0. 8</text>
<text x="99.54" y="649" font-family='"Liberation Sans", sans-serif' font-size="10.2" font-weight="normal" text-anchor="middle" stroke="#000" stroke-width="0.3">−0. 6</text>
<text x="137.78" y="649" font-family='"Liberation Sans", sans-serif' font-size="10.2" font-weight="normal" text-anchor="middle" stroke="#000" stroke-width="0.3">−0. 4</text>
<text x="176.02" y="649" font-family='"Liberation Sans", sans-serif' font-size="10.2" font-weight="normal" text-anchor="middle" stroke="#000" stroke-width="0.3">−0. 2</text>
<text x="214.26" y="649" font-family='"Liberation Sans", sans-serif' font-size="10.2" font-weight="normal" text-anchor="middle" stroke="#000" stroke-width="0.3">0. 0</text>
<text x="252.5" y="649" font-family='"Liberation Sans", sans-serif' font-size="10.2" font-weight="normal" text-anchor="middle" stroke="#000" stroke-width="0.3">0. 2</text>
<text x="46.6" y="475" font-family='"Liberation Sans", sans-serif' font-size="10.2" font-weight="normal" text-anchor="end" stroke="#000" stroke-width="0.3">3</text>
<text x="46.6" y="506.5" font-family='"Liberation Sans", sans-serif' font-size="10.2" font-weight="normal" text-anchor="end" stroke="#000" stroke-width="0.3">2</text>
<text x="46.6" y="538" font-family='"Liberation Sans", sans-serif' font-size="10.2" font-weight="normal" text-anchor="end" stroke="#000" stroke-width="0.3">1</text>
<text x="46.6" y="569.5" font-family='"Liberation Sans", sans-serif' font-size="10.2" font-weight="normal" text-anchor="end" stroke="#000" stroke-width="0.3">0</text>
<text x="46.6" y="601" font-family='"Liberation Sans", sans-serif' font-size="10.2" font-weight="normal" text-anchor="end" stroke="#000" stroke-width="0.3">−1</text>
<text x="46.6" y="632.5" font-family='"Liberation Sans", sans-serif' font-size="10.2" font-weight="normal" text-anchor="end" stroke="#000" stroke-width="0.3">−2</text>
<text transform="translate(157,668.6) scale(1,1.06)" x="0" y="0" font-family='"Liberation Serif", serif' font-size="14.5" font-weight="bold" text-anchor="middle" >Potential (V vs. Hg/HgO)</text>
<text transform="translate(30.9,541.3) rotate(-90)" x="0" y="0" font-family='"Liberation Serif", serif' font-size="14.3" font-weight="bold" text-anchor="middle">Current (mA)</text>
<path d="M61.3,621.1 C61.45,615.42 61.72,595.12 62.2,587 C62.68,578.88 63.05,576.07 64.2,572.4 C65.35,568.73 67.07,566.63 69.1,565 C71.13,563.37 73.97,562.88 76.4,562.6 C78.83,562.32 81.47,564.03 83.7,563.3 C85.93,562.57 87.97,558.12 89.8,558.2 C91.63,558.28 92.87,562.25 94.7,563.8 C96.53,565.35 97.77,566.68 100.8,567.5 C103.83,568.32 108.85,568.9 112.9,568.7 C116.95,568.5 121.43,568.13 125.1,566.3 C128.77,564.47 132.05,561.57 134.9,557.7 C137.75,553.83 139.97,549.6 142.2,543.1 C144.43,536.6 146.47,527.63 148.3,518.7 C150.13,509.77 151.75,495.62 153.2,489.5 C154.65,483.38 155.8,483.7 157,482 C158.2,480.3 158.9,479.27 160.4,479.3 C161.9,479.33 163.65,479.28 166,482.2 C168.35,485.12 171.87,492.13 174.5,496.8 C177.13,501.47 178.95,506.13 181.8,510.2 C184.65,514.27 187.93,518.63 191.6,521.2 C195.27,523.77 197.72,524.72 203.8,525.6 C209.88,526.48 219.98,526.02 228.1,526.5 C236.22,526.98 248.35,526.08 252.5,528.5 C256.65,530.92 253.08,537.92 253,541 C252.92,544.08 252.58,545.08 252,547 C251.42,548.92 250.5,551 249.5,552.5 C248.5,554 247.92,554.58 246,556 C244.08,557.42 240.67,559.17 238,561 C235.33,562.83 233,565.63 230,567 C227,568.37 223.33,568.53 220,569.2 C216.67,569.87 213.33,570.37 210,571 C206.67,571.63 202.83,572.33 200,573 C197.17,573.67 195.33,574.17 193,575 C190.67,575.83 189.83,576.67 186,578 C182.17,579.33 174.33,581.73 170,583 C165.67,584.27 164.93,584.08 160,585.6 C155.07,587.12 146.93,590.03 140.4,592.1 C133.87,594.17 127.35,596.2 120.8,598 C114.25,599.8 106.67,601.43 101.1,602.9 C95.53,604.37 90.67,606.32 87.4,606.8 C84.13,607.28 83.47,605.8 81.5,605.8 C79.53,605.8 77.9,605.32 75.6,606.8 C73.3,608.28 69.8,612.5 67.7,614.7 C65.6,616.9 64.07,618.93 63,620 C61.93,621.07 61.58,620.92 61.3,621.1" fill="none" stroke="#000000" stroke-width="2.15" stroke-linejoin="round" stroke-linecap="round"/>
<path d="M61.3,622.3 C61.58,618.03 62.12,602.18 63,596.7 C63.88,591.22 64.37,591.22 66.6,589.4 C68.83,587.58 73.55,586.82 76.4,585.8 C79.25,584.78 81.47,584.73 83.7,583.3 C85.93,581.87 87.77,577.4 89.8,577.2 C91.83,577 93.27,581.08 95.9,582.1 C98.53,583.12 101.53,583.5 105.6,583.3 C109.67,583.1 116.23,582.32 120.3,580.9 C124.37,579.48 127.17,577.85 130,574.8 C132.83,571.75 134.87,568.28 137.3,562.6 C139.73,556.92 142.15,548.42 144.6,540.7 C147.05,532.98 149.97,521.58 152,516.3 C154.03,511.02 155.17,510.42 156.8,509 C158.43,507.58 159.67,506.98 161.8,507.8 C163.93,508.62 166.67,511.07 169.6,513.9 C172.53,516.73 175.73,521.63 179.4,524.8 C183.07,527.97 187.53,531.15 191.6,532.9 C195.67,534.65 197.72,534.9 203.8,535.3 C209.88,535.7 219.98,535.13 228.1,535.3 C236.22,535.47 248.35,535.35 252.5,536.3 C256.65,537.25 253.08,539.22 253,541 C252.92,542.78 252.58,545.08 252,547 C251.42,548.92 250.5,551 249.5,552.5 C248.5,554 247.92,554.58 246,556 C244.08,557.42 240.67,559.33 238,561 C235.33,562.67 233,564.75 230,566 C227,567.25 223.33,567.75 220,568.5 C216.67,569.25 213.33,569.83 210,570.5 C206.67,571.17 202.83,571.88 200,572.5 C197.17,573.12 195.33,573.53 193,574.2 C190.67,574.87 189.83,575.28 186,576.5 C182.17,577.72 174.33,580.12 170,581.5 C165.67,582.88 164.17,582.88 160,584.8 C155.83,586.72 149.9,590.65 145,593 C140.1,595.35 136.27,596.6 130.6,598.9 C124.93,601.2 117.55,604.67 111,606.8 C104.45,608.93 96.22,610.55 91.3,611.7 C86.38,612.85 84.78,612.55 81.5,613.7 C78.22,614.85 74.35,616.97 71.6,618.6 C68.85,620.23 66.72,622.38 65,623.5 C63.28,624.62 61.92,625.5 61.3,625.3 C60.68,625.1 61.3,622.8 61.3,622.3" fill="none" stroke="#ff0000" stroke-width="2.15" stroke-linejoin="round" stroke-linecap="round"/>
<path d="M61.3,608.9 C61.45,604.85 61.52,590.9 62.2,584.6 C62.88,578.3 63.85,573.95 65.4,571.1 C66.95,568.25 68.85,568.3 71.5,567.5 C74.15,566.7 78.25,567.32 81.3,566.3 C84.35,565.28 87.37,561.28 89.8,561.4 C92.23,561.52 93.27,565.67 95.9,567 C98.53,568.33 101.53,569 105.6,569.4 C109.67,569.8 115.83,570.33 120.3,569.4 C124.77,568.47 129.15,566.97 132.4,563.8 C135.65,560.63 137.35,556.28 139.8,550.4 C142.25,544.52 144.87,536.22 147.1,528.5 C149.33,520.78 151.55,509.52 153.2,504.1 C154.85,498.68 155.68,497.82 157,496 C158.32,494.18 159.4,493.07 161.1,493.2 C162.8,493.33 164.57,493.77 167.2,496.8 C169.83,499.83 173.65,506.93 176.9,511.4 C180.15,515.87 183.03,520.35 186.7,523.6 C190.37,526.85 194.03,529.27 198.9,530.9 C203.77,532.53 206.97,532.78 215.9,533.4 C224.83,534.02 246.32,533.33 252.5,534.6 C258.68,535.87 253.08,538.93 253,541 C252.92,543.07 252.58,545.08 252,547 C251.42,548.92 250.5,551 249.5,552.5 C248.5,554 247.92,554.58 246,556 C244.08,557.42 240.67,559.42 238,561 C235.33,562.58 233,564.37 230,565.5 C227,566.63 223.33,567.05 220,567.8 C216.67,568.55 213.33,569.38 210,570 C206.67,570.62 202.83,570.97 200,571.5 C197.17,572.03 195.33,572.58 193,573.2 C190.67,573.82 189.83,574.23 186,575.2 C182.17,576.17 174.33,578.1 170,579 C165.67,579.9 164.17,579.8 160,580.6 C155.83,581.4 149.9,582.7 145,583.8 C140.1,584.9 136.27,585.82 130.6,587.2 C124.93,588.58 117.55,590.63 111,592.1 C104.45,593.57 96.22,595.02 91.3,596 C86.38,596.98 84.78,596.85 81.5,598 C78.22,599.15 74.35,601.48 71.6,602.9 C68.85,604.32 66.72,605.5 65,606.5 C63.28,607.5 61.92,608.5 61.3,608.9" fill="none" stroke="#00d08a" stroke-width="2.15" stroke-linejoin="round" stroke-linecap="round"/>
<path d="M61.3,604 C61.58,600.77 62.12,589.87 63,584.6 C63.88,579.33 64.37,575.25 66.6,572.4 C68.83,569.55 72.53,568.93 76.4,567.5 C80.27,566.07 86.55,563.6 89.8,563.8 C93.05,564 92.05,567.6 95.9,568.7 C99.75,569.8 107.22,570.6 112.9,570.4 C118.58,570.2 125.93,569.2 130,567.5 C134.07,565.8 134.87,564.27 137.3,560.2 C139.73,556.13 142.15,550.02 144.6,543.1 C147.05,536.18 149.97,523.72 152,518.7 C154.03,513.68 155.08,514.22 156.8,513 C158.52,511.78 160.17,510.85 162.3,511.4 C164.43,511.95 166.75,513.65 169.6,516.3 C172.45,518.95 175.73,524.25 179.4,527.3 C183.07,530.35 187.53,532.98 191.6,534.6 C195.67,536.22 197.72,536.47 203.8,537 C209.88,537.53 219.98,537.38 228.1,537.8 C236.22,538.22 248.35,538.97 252.5,539.5 C256.65,540.03 253.08,539.75 253,541 C252.92,542.25 252.58,545.08 252,547 C251.42,548.92 250.5,551 249.5,552.5 C248.5,554 247.92,554.58 246,556 C244.08,557.42 240.67,559.5 238,561 C235.33,562.5 233,564 230,565 C227,566 223.33,566.33 220,567 C216.67,567.67 213.33,568.47 210,569 C206.67,569.53 202.83,569.7 200,570.2 C197.17,570.7 195.33,571.37 193,572 C190.67,572.63 189.83,573.17 186,574 C182.17,574.83 174.33,576.23 170,577 C165.67,577.77 164.17,577.8 160,578.6 C155.83,579.4 149.9,580.7 145,581.8 C140.1,582.9 136.27,583.82 130.6,585.2 C124.93,586.58 117.55,588.63 111,590.1 C104.45,591.57 96.22,593.02 91.3,594 C86.38,594.98 84.78,595.17 81.5,596 C78.22,596.83 74.35,598 71.6,599 C68.85,600 66.72,601.17 65,602 C63.28,602.83 61.92,603.67 61.3,604" fill="none" stroke="#0000ff" stroke-width="2.15" stroke-linejoin="round" stroke-linecap="round"/>
<path d="M61.3,602.5 C61.58,599.52 62.12,588.82 63,584.6 C63.88,580.38 64.37,578.83 66.6,577.2 C68.83,575.57 72.53,575.82 76.4,574.8 C80.27,573.78 86.55,571.3 89.8,571.1 C93.05,570.9 92.05,572.98 95.9,573.6 C99.75,574.22 107.22,575 112.9,574.8 C118.58,574.6 125.93,573.82 130,572.4 C134.07,570.98 134.87,569.97 137.3,566.3 C139.73,562.63 142.15,556.3 144.6,550.4 C147.05,544.5 149.97,535.3 152,530.9 C154.03,526.5 155.08,525.73 156.8,524 C158.52,522.27 160.17,520.57 162.3,520.5 C164.43,520.43 166.75,521.65 169.6,523.6 C172.45,525.55 175.73,529.55 179.4,532.2 C183.07,534.85 187.53,538 191.6,539.5 C195.67,541 197.72,540.92 203.8,541.2 C209.88,541.48 219.98,540.97 228.1,541.2 C236.22,541.43 248.35,542.63 252.5,542.6 C256.65,542.57 253.08,540.27 253,541 C252.92,541.73 252.58,545.08 252,547 C251.42,548.92 250.5,551 249.5,552.5 C248.5,554 247.92,554.58 246,556 C244.08,557.42 240.67,559.67 238,561 C235.33,562.33 233,563.23 230,564 C227,564.77 223.33,565.1 220,565.6 C216.67,566.1 213.33,566.55 210,567 C206.67,567.45 202.83,567.83 200,568.3 C197.17,568.77 195.33,569.18 193,569.8 C190.67,570.42 189.83,571.3 186,572 C182.17,572.7 174.33,573.28 170,574 C165.67,574.72 164.17,575.3 160,576.3 C155.83,577.3 149.9,578.85 145,580 C140.1,581.15 136.27,581.85 130.6,583.2 C124.93,584.55 117.55,586.63 111,588.1 C104.45,589.57 97.87,590.52 91.3,592 C84.73,593.48 75.98,595.58 71.6,597 C67.22,598.42 66.72,599.58 65,600.5 C63.28,601.42 61.92,602.17 61.3,602.5" fill="none" stroke="#f27d12" stroke-width="2.15" stroke-linejoin="round" stroke-linecap="round"/>
<line x1="61" y1="479.4" x2="82" y2="479.4" stroke="#ff0000" stroke-width="2.6"/>
<text transform="translate(84,482.4) scale(1,1.06)" x="0" y="0" font-family='"Liberation Serif", serif' font-size="8.5" font-weight="bold" text-anchor="start" >Pt/CC</text>
<line x1="61" y1="490.4" x2="82" y2="490.4" stroke="#000000" stroke-width="2.6"/>
<text transform="translate(84,493.4) scale(1,1.06)" x="0" y="0" font-family='"Liberation Serif", serif' font-size="8.5" font-weight="bold" text-anchor="start" >PtZn/CC-1</text>
<line x1="61" y1="501.4" x2="82" y2="501.4" stroke="#00d08a" stroke-width="2.6"/>
<text transform="translate(84,504.4) scale(1,1.06)" x="0" y="0" font-family='"Liberation Serif", serif' font-size="8.5" font-weight="bold" text-anchor="start" >PtZn/CC-2</text>
<line x1="61" y1="512.6" x2="82" y2="512.6" stroke="#0000ff" stroke-width="2.6"/>
<text transform="translate(84,515.6) scale(1,1.06)" x="0" y="0" font-family='"Liberation Serif", serif' font-size="8.5" font-weight="bold" text-anchor="start" >PtZn/CC-3</text>
<line x1="61" y1="523.6" x2="82" y2="523.6" stroke="#f27d12" stroke-width="2.6"/>
<text transform="translate(84,526.6) scale(1,1.06)" x="0" y="0" font-family='"Liberation Serif", serif' font-size="8.5" font-weight="bold" text-anchor="start" >PtZn/CC-4</text>
<text transform="translate(4.6,475.1) scale(1,0.965)" x="0" y="0" font-family='"Liberation Serif", serif' font-size="27.8" font-weight="bold" text-anchor="start" >(e)</text>
<rect x="328" y="464.5" width="209.9" height="169.4" fill="none" stroke="#000" stroke-width="2.0"/>
<line x1="345.2" y1="633.9" x2="345.2" y2="637.1" stroke="#000" stroke-width="1.6"/>
<line x1="380.28" y1="633.9" x2="380.28" y2="637.1" stroke="#000" stroke-width="1.6"/>
<line x1="415.36" y1="633.9" x2="415.36" y2="637.1" stroke="#000" stroke-width="1.6"/>
<line x1="450.44" y1="633.9" x2="450.44" y2="637.1" stroke="#000" stroke-width="1.6"/>
<line x1="485.52" y1="633.9" x2="485.52" y2="637.1" stroke="#000" stroke-width="1.6"/>
<line x1="520.6" y1="633.9" x2="520.6" y2="637.1" stroke="#000" stroke-width="1.6"/>
<line x1="362.74" y1="633.9" x2="362.74" y2="635.9" stroke="#000" stroke-width="0.8"/>
<line x1="397.82" y1="633.9" x2="397.82" y2="635.9" stroke="#000" stroke-width="0.8"/>
<line x1="432.9" y1="633.9" x2="432.9" y2="635.9" stroke="#000" stroke-width="0.8"/>
<line x1="467.98" y1="633.9" x2="467.98" y2="635.9" stroke="#000" stroke-width="0.8"/>
<line x1="503.06" y1="633.9" x2="503.06" y2="635.9" stroke="#000" stroke-width="0.8"/>
<line x1="324.8" y1="625.1" x2="328" y2="625.1" stroke="#000" stroke-width="1.6"/>
<line x1="324.8" y1="606.2" x2="328" y2="606.2" stroke="#000" stroke-width="1.6"/>
<line x1="324.8" y1="587.3" x2="328" y2="587.3" stroke="#000" stroke-width="1.6"/>
<line x1="324.8" y1="568.4" x2="328" y2="568.4" stroke="#000" stroke-width="1.6"/>
<line x1="324.8" y1="549.5" x2="328" y2="549.5" stroke="#000" stroke-width="1.6"/>
<line x1="324.8" y1="530.6" x2="328" y2="530.6" stroke="#000" stroke-width="1.6"/>
<line x1="324.8" y1="511.7" x2="328" y2="511.7" stroke="#000" stroke-width="1.6"/>
<line x1="324.8" y1="492.8" x2="328" y2="492.8" stroke="#000" stroke-width="1.6"/>
<line x1="324.8" y1="473.9" x2="328" y2="473.9" stroke="#000" stroke-width="1.6"/>
<line x1="326" y1="634.55" x2="328" y2="634.55" stroke="#000" stroke-width="0.8"/>
<line x1="326" y1="615.65" x2="328" y2="615.65" stroke="#000" stroke-width="0.8"/>
<line x1="326" y1="596.75" x2="328" y2="596.75" stroke="#000" stroke-width="0.8"/>
<line x1="326" y1="577.85" x2="328" y2="577.85" stroke="#000" stroke-width="0.8"/>
<line x1="326" y1="558.95" x2="328" y2="558.95" stroke="#000" stroke-width="0.8"/>
<line x1="326" y1="540.05" x2="328" y2="540.05" stroke="#000" stroke-width="0.8"/>
<line x1="326" y1="521.15" x2="328" y2="521.15" stroke="#000" stroke-width="0.8"/>
<line x1="326" y1="502.25" x2="328" y2="502.25" stroke="#000" stroke-width="0.8"/>
<line x1="326" y1="483.35" x2="328" y2="483.35" stroke="#000" stroke-width="0.8"/>
<text x="345.2" y="649" font-family='"Liberation Sans", sans-serif' font-size="10.2" font-weight="normal" text-anchor="middle" stroke="#000" stroke-width="0.3">−0. 8</text>
<text x="380.28" y="649" font-family='"Liberation Sans", sans-serif' font-size="10.2" font-weight="normal" text-anchor="middle" stroke="#000" stroke-width="0.3">−0. 6</text>
<text x="415.36" y="649" font-family='"Liberation Sans", sans-serif' font-size="10.2" font-weight="normal" text-anchor="middle" stroke="#000" stroke-width="0.3">−0. 4</text>
<text x="450.44" y="649" font-family='"Liberation Sans", sans-serif' font-size="10.2" font-weight="normal" text-anchor="middle" stroke="#000" stroke-width="0.3">−0. 2</text>
<text x="485.52" y="649" font-family='"Liberation Sans", sans-serif' font-size="10.2" font-weight="normal" text-anchor="middle" stroke="#000" stroke-width="0.3">0. 0</text>
<text x="520.6" y="649" font-family='"Liberation Sans", sans-serif' font-size="10.2" font-weight="normal" text-anchor="middle" stroke="#000" stroke-width="0.3">0. 2</text>
<text x="322.8" y="629.4" font-family='"Liberation Sans", sans-serif' font-size="10.2" font-weight="normal" text-anchor="end" stroke="#000" stroke-width="0.3">−3</text>
<text x="322.8" y="610.5" font-family='"Liberation Sans", sans-serif' font-size="10.2" font-weight="normal" text-anchor="end" stroke="#000" stroke-width="0.3">−2</text>
<text x="322.8" y="591.6" font-family='"Liberation Sans", sans-serif' font-size="10.2" font-weight="normal" text-anchor="end" stroke="#000" stroke-width="0.3">−1</text>
<text x="322.8" y="572.7" font-family='"Liberation Sans", sans-serif' font-size="10.2" font-weight="normal" text-anchor="end" stroke="#000" stroke-width="0.3">0</text>
<text x="322.8" y="553.8" font-family='"Liberation Sans", sans-serif' font-size="10.2" font-weight="normal" text-anchor="end" stroke="#000" stroke-width="0.3">1</text>
<text x="322.8" y="534.9" font-family='"Liberation Sans", sans-serif' font-size="10.2" font-weight="normal" text-anchor="end" stroke="#000" stroke-width="0.3">2</text>
<text x="322.8" y="516" font-family='"Liberation Sans", sans-serif' font-size="10.2" font-weight="normal" text-anchor="end" stroke="#000" stroke-width="0.3">3</text>
<text x="322.8" y="497.1" font-family='"Liberation Sans", sans-serif' font-size="10.2" font-weight="normal" text-anchor="end" stroke="#000" stroke-width="0.3">4</text>
<text x="322.8" y="478.2" font-family='"Liberation Sans", sans-serif' font-size="10.2" font-weight="normal" text-anchor="end" stroke="#000" stroke-width="0.3">5</text>
<text transform="translate(433.6,669) scale(1,1.06)" x="0" y="0" font-family='"Liberation Serif", serif' font-size="14.5" font-weight="bold" text-anchor="middle" >Potential (V vs. Hg/HgO)</text>
<text transform="translate(307.4,541.3) rotate(-90)" x="0" y="0" font-family='"Liberation Serif", serif' font-size="14.3" font-weight="bold" text-anchor="middle">Current (mA)</text>
<path d="M345,590 C345.33,587.67 346.25,578.6 347,576 C347.75,573.4 347.43,574.93 349.5,574.4 C351.57,573.87 355.67,573.33 359.4,572.8 C363.13,572.27 368.27,571.2 371.9,571.2 C375.53,571.2 377.83,572.43 381.2,572.8 C384.57,573.17 388.52,573.62 392.1,573.4 C395.68,573.18 399.68,572.18 402.7,571.5 C405.72,570.82 407.23,570.88 410.2,569.3 C413.17,567.72 417.58,564.58 420.5,562 C423.42,559.42 425.63,556.12 427.7,553.8 C429.77,551.48 431.17,549.48 432.9,548.1 C434.63,546.72 436.55,545.9 438.1,545.5 C439.65,545.1 440.88,545.48 442.2,545.7 C443.52,545.92 443.33,545.83 446,546.8 C448.67,547.77 454.23,550.23 458.2,551.5 C462.17,552.77 465.98,553.87 469.8,554.4 C473.62,554.93 473.22,554.65 481.1,554.7 C488.98,554.75 510.73,554.98 517.1,554.7 C523.47,554.42 519.27,552.53 519.3,553 C519.33,553.47 518.1,556.05 517.3,557.5 C516.5,558.95 515.77,560.4 514.5,561.7 C513.23,563 511.63,564.38 509.7,565.3 C507.77,566.22 506.18,566.5 502.9,567.2 C499.62,567.9 494.32,568.78 490,569.5 C485.68,570.22 481.33,570.9 477,571.5 C472.67,572.1 468.5,572.55 464,573.1 C459.5,573.65 454.83,574.32 450,574.8 C445.17,575.28 440,575.58 435,576 C430,576.42 425.83,576.63 420,577.3 C414.17,577.97 406.67,579.22 400,580 C393.33,580.78 386.67,581.17 380,582 C373.33,582.83 365,584.12 360,585 C355,585.88 352.5,586.47 350,587.3 C347.5,588.13 345.83,589.55 345,590" fill="none" stroke="#f27d12" stroke-width="2.15" stroke-linejoin="round" stroke-linecap="round"/>
<path d="M347,595 C347.13,591.83 347.38,580.07 347.8,576 C348.22,571.93 347.57,571.77 349.5,570.6 C351.43,569.43 356.65,569.38 359.4,569 C362.15,568.62 363.92,568.67 366,568.3 C368.08,567.93 370.28,566.78 371.9,566.8 C373.52,566.82 374.02,567.87 375.7,568.4 C377.38,568.93 378.78,569.65 382,570 C385.22,570.35 391,570.75 395,570.5 C399,570.25 403.42,569.08 406,568.5 C408.58,567.92 408.95,567.73 410.5,567 C412.05,566.27 413.63,566.13 415.3,564.1 C416.97,562.07 418.77,558.25 420.5,554.8 C422.23,551.35 424.15,546.85 425.7,543.4 C427.25,539.95 428.43,536.33 429.8,534.1 C431.17,531.87 432.52,530.77 433.9,530 C435.28,529.23 436.25,529.15 438.1,529.5 C439.95,529.85 443.02,530.93 445,532.1 C446.98,533.27 447.32,534.65 450,536.5 C452.68,538.35 457.73,541.45 461.1,543.2 C464.47,544.95 466.13,546.17 470.2,547 C474.27,547.83 477.5,547.87 485.5,548.2 C493.5,548.53 512.57,548.2 518.2,549 C523.83,549.8 519.45,551.58 519.3,553 C519.15,554.42 518.1,556.05 517.3,557.5 C516.5,558.95 515.77,560.4 514.5,561.7 C513.23,563 511.63,564.32 509.7,565.3 C507.77,566.28 506.18,566.78 502.9,567.6 C499.62,568.42 494.32,569.43 490,570.2 C485.68,570.97 481.33,571.53 477,572.2 C472.67,572.87 468.5,573.57 464,574.2 C459.5,574.83 454.83,575.4 450,576 C445.17,576.6 440,577.25 435,577.8 C430,578.35 425.83,578.27 420,579.3 C414.17,580.33 406.67,582.72 400,584 C393.33,585.28 385,586.17 380,587 C375,587.83 373.33,588.5 370,589 C366.67,589.5 363,589.5 360,590 C357,590.5 354.17,591.08 352,592 C349.83,592.92 347.83,594.92 347,595.5" fill="none" stroke="#000000" stroke-width="2.15" stroke-linejoin="round" stroke-linecap="round"/>
<path d="M347,596 C347.13,592.67 347.38,580.42 347.8,576 C348.22,571.58 347.57,570.85 349.5,569.5 C351.43,568.15 356.3,568.35 359.4,567.9 C362.5,567.45 366.02,567.35 368.1,566.8 C370.18,566.25 370.82,564.6 371.9,564.6 C372.98,564.6 373.23,565.98 374.6,566.8 C375.97,567.62 377.2,568.88 380.1,569.5 C383,570.12 388.02,570.58 392,570.5 C395.98,570.42 401,569.75 404,569 C407,568.25 408.12,567.33 410,566 C411.88,564.67 413.55,563.73 415.3,561 C417.05,558.27 418.77,553.9 420.5,549.6 C422.23,545.3 424.15,539.15 425.7,535.2 C427.25,531.25 428.25,527.88 429.8,525.9 C431.35,523.92 433.28,523.48 435,523.3 C436.72,523.12 438.43,523.95 440.1,524.8 C441.77,525.65 443.35,526.87 445,528.4 C446.65,529.93 447.8,532.1 450,534 C452.2,535.9 454.9,537.87 458.2,539.8 C461.5,541.73 465.98,544.2 469.8,545.6 C473.62,547 475.58,547.67 481.1,548.2 C486.62,548.73 496.9,548.55 502.9,548.8 C508.9,549.05 514.37,549 517.1,549.7 C519.83,550.4 519.27,551.7 519.3,553 C519.33,554.3 518.1,556.05 517.3,557.5 C516.5,558.95 515.77,560.4 514.5,561.7 C513.23,563 511.63,564.28 509.7,565.3 C507.77,566.32 506.18,566.93 502.9,567.8 C499.62,568.67 494.32,569.7 490,570.5 C485.68,571.3 481.33,571.92 477,572.6 C472.67,573.28 468.5,573.95 464,574.6 C459.5,575.25 454.83,575.88 450,576.5 C445.17,577.12 440,577.72 435,578.3 C430,578.88 425.83,578.88 420,580 C414.17,581.12 406.67,583.67 400,585 C393.33,586.33 385,587.17 380,588 C375,588.83 373.33,589.5 370,590 C366.67,590.5 363,590.5 360,591 C357,591.5 354.17,592 352,593 C349.83,594 347.83,596.33 347,597" fill="none" stroke="#ff0000" stroke-width="2.15" stroke-linejoin="round" stroke-linecap="round"/>
<path d="M346,602 C346.23,597.67 346.82,581.6 347.4,576 C347.98,570.4 348.42,570.02 349.5,568.4 C350.58,566.78 352.25,566.75 353.9,566.3 C355.55,565.85 357.58,565.7 359.4,565.7 C361.22,565.7 363.17,566.38 364.8,566.3 C366.43,566.22 367.93,565.67 369.2,565.2 C370.47,564.73 371.32,563.5 372.4,563.5 C373.48,563.5 374.42,564.38 375.7,565.2 C376.98,566.02 378.28,567.58 380.1,568.4 C381.92,569.22 384.07,569.82 386.6,570.1 C389.13,570.38 393.07,570.28 395.3,570.1 C397.53,569.92 398.38,569.65 400,569 C401.62,568.35 403.13,567.53 405,566.2 C406.87,564.87 409.3,563.77 411.2,561 C413.1,558.23 414.68,554.08 416.4,549.6 C418.12,545.12 419.95,538.92 421.5,534.1 C423.05,529.28 424.32,524.32 425.7,520.7 C427.08,517.08 428.43,514.47 429.8,512.4 C431.17,510.33 432.7,509.07 433.9,508.3 C435.1,507.53 435.87,507.6 437,507.8 C438.13,508 439.12,507.97 440.7,509.5 C442.28,511.03 444.07,513.65 446.5,517 C448.93,520.35 452.13,526.03 455.3,529.6 C458.47,533.17 463.02,536.58 465.5,538.4 C467.98,540.22 466.87,539.97 470.2,540.5 C473.53,541.03 477.5,541.3 485.5,541.6 C493.5,541.9 512.57,540.4 518.2,542.3 C523.83,544.2 519.45,550.47 519.3,553 C519.15,555.53 518.1,556.05 517.3,557.5 C516.5,558.95 515.77,560.4 514.5,561.7 C513.23,563 511.63,564.25 509.7,565.3 C507.77,566.35 506.18,567.02 502.9,568 C499.62,568.98 494.32,570.28 490,571.2 C485.68,572.12 481.33,572.67 477,573.5 C472.67,574.33 468.5,575.28 464,576.2 C459.5,577.12 454.83,578.12 450,579 C445.17,579.88 440,580.75 435,581.5 C430,582.25 425.83,582.08 420,583.5 C414.17,584.92 406.67,588.08 400,590 C393.33,591.92 385,594 380,595 C375,596 373.33,595.5 370,596 C366.67,596.5 363,596.83 360,598 C357,599.17 354.33,601.58 352,603 C349.67,604.42 347,605.92 346,606.5" fill="none" stroke="#0000ff" stroke-width="2.15" stroke-linejoin="round" stroke-linecap="round"/>
<path d="M345,624 C345.07,620 345.15,608.17 345.4,600 C345.65,591.83 345.82,580.72 346.5,575 C347.18,569.28 348.27,568.25 349.5,565.7 C350.73,563.15 352.62,560.88 353.9,559.7 C355.18,558.52 356.12,558.68 357.2,558.6 C358.28,558.52 358.95,559.1 360.4,559.2 C361.85,559.3 364.43,559.75 365.9,559.2 C367.37,558.65 368.12,557 369.2,555.9 C370.28,554.8 371.5,552.78 372.4,552.6 C373.3,552.42 373.87,553.52 374.6,554.8 C375.33,556.08 375.88,558.57 376.8,560.3 C377.72,562.03 378.83,564.02 380.1,565.2 C381.37,566.38 382.4,566.95 384.4,567.4 C386.4,567.85 389.92,568 392.1,567.9 C394.28,567.8 395.85,567.35 397.5,566.8 C399.15,566.25 400.75,565.4 402,564.6 C403.25,563.8 403.63,563.47 405,562 C406.37,560.53 408.48,558.9 410.2,555.8 C411.92,552.7 413.93,547.35 415.3,543.4 C416.67,539.45 417.37,535.88 418.4,532.1 C419.43,528.32 420.47,524.67 421.5,520.7 C422.53,516.73 423.6,512.25 424.6,508.3 C425.6,504.35 426.28,500.13 427.5,497 C428.72,493.87 430.62,490.67 431.9,489.5 C433.18,488.33 433.87,488.48 435.2,490 C436.53,491.52 438.23,495.17 439.9,498.6 C441.57,502.03 443.52,507.27 445.2,510.6 C446.88,513.93 447.83,515.67 450,518.6 C452.17,521.53 455.13,525.75 458.2,528.2 C461.27,530.65 464.77,532.33 468.4,533.3 C472.03,534.27 475.33,534.07 480,534 C484.67,533.93 489.85,532.9 496.4,532.9 C502.95,532.9 515.37,531.98 519.3,534 C523.23,536.02 519.97,541.83 520,545 C520.03,548.17 519.95,550.83 519.5,553 C519.05,555.17 518.13,556.42 517.3,558 C516.47,559.58 515.77,561.17 514.5,562.5 C513.23,563.83 511.63,565 509.7,566 C507.77,567 506.18,567.5 502.9,568.5 C499.62,569.5 494.27,570.75 490,572 C485.73,573.25 481.65,574.58 477.3,576 C472.95,577.42 468.68,579.17 463.9,580.5 C459.12,581.83 453.42,582.83 448.6,584 C443.78,585.17 439.77,586.5 435,587.5 C430.23,588.5 424.17,589 420,590 C415.83,591 415,592 410,593.5 C405,595 395.67,597.25 390,599 C384.33,600.75 379.33,602.6 376,604 C372.67,605.4 371.67,607.07 370,607.4 C368.33,607.73 367.67,606.4 366,606 C364.33,605.6 362.33,603.83 360,605 C357.67,606.17 354,610.67 352,613 C350,615.33 349.17,617.17 348,619 C346.83,620.83 345.5,623.17 345,624" fill="none" stroke="#ff00ff" stroke-width="2.15" stroke-linejoin="round" stroke-linecap="round"/>
<path d="M346,604 C346.1,600 346.37,585.65 346.6,580 C346.83,574.35 346.73,572.67 347.4,570.1 C348.07,567.53 349.33,565.88 350.6,564.6 C351.87,563.32 353.37,563.03 355,562.4 C356.63,561.77 358.77,560.88 360.4,560.8 C362.03,560.72 363.15,561.53 364.8,561.9 C366.45,562.27 368.67,563.27 370.3,563 C371.93,562.73 373.33,561.38 374.6,560.3 C375.87,559.22 376.8,556.5 377.9,556.5 C379,556.5 380.12,558.95 381.2,560.3 C382.28,561.65 383.13,563.42 384.4,564.6 C385.67,565.78 386.98,566.77 388.8,567.4 C390.62,568.03 392.93,568.35 395.3,568.4 C397.67,568.45 400.35,568.58 403,567.7 C405.65,566.82 408.8,565.77 411.2,563.1 C413.6,560.43 415.5,556.18 417.4,551.7 C419.3,547.22 421.05,541.02 422.6,536.2 C424.15,531.38 425.33,526.6 426.7,522.8 C428.07,519 429.25,515.85 430.8,513.4 C432.35,510.95 434.62,508.95 436,508.1 C437.38,507.25 437.6,507.07 439.1,508.3 C440.6,509.53 443.03,513.15 445,515.5 C446.97,517.85 448.22,519.32 450.9,522.4 C453.58,525.48 457.88,530.98 461.1,534 C464.32,537.02 466.13,539.12 470.2,540.5 C474.27,541.88 477.32,541.93 485.5,542.3 C493.68,542.67 513.55,541.08 519.3,542.7 C525.05,544.32 520,550.28 520,552 C520,553.72 519.75,552.08 519.3,553 C518.85,553.92 518.1,556.05 517.3,557.5 C516.5,558.95 515.77,560.4 514.5,561.7 C513.23,563 511.63,564.22 509.7,565.3 C507.77,566.38 506.18,567.12 502.9,568.2 C499.62,569.28 494.32,570.75 490,571.8 C485.68,572.85 481.33,573.55 477,574.5 C472.67,575.45 468.5,576.5 464,577.5 C459.5,578.5 454.83,579.58 450,580.5 C445.17,581.42 440,582.25 435,583 C430,583.75 425.83,583.83 420,585 C414.17,586.17 406,588.5 400,590 C394,591.5 388,593 384,594 C380,595 378.33,595.83 376,596 C373.67,596.17 372.33,595 370,595 C367.67,595 364.33,595 362,596 C359.67,597 358,599.5 356,601 C354,602.5 351.67,604.5 350,605 C348.33,605.5 346.67,604.17 346,604" fill="none" stroke="#067c06" stroke-width="2.15" stroke-linejoin="round" stroke-linecap="round"/>
<line x1="334" y1="475" x2="353" y2="475" stroke="#f27d12" stroke-width="2.4"/>
<text transform="translate(354.2,477.9) scale(1,1.06)" x="0" y="0" font-family='"Liberation Serif", serif' font-size="8.05" font-weight="bold" text-anchor="start" >PtZn/CC-10 cycles</text>
<line x1="334" y1="485" x2="353" y2="485" stroke="#000000" stroke-width="2.4"/>
<text transform="translate(354.2,487.9) scale(1,1.06)" x="0" y="0" font-family='"Liberation Serif", serif' font-size="8.05" font-weight="bold" text-anchor="start" >PtZn/CC-20 cycles</text>
<line x1="334" y1="495" x2="353" y2="495" stroke="#ff0000" stroke-width="2.4"/>
<text transform="translate(354.2,497.9) scale(1,1.06)" x="0" y="0" font-family='"Liberation Serif", serif' font-size="8.05" font-weight="bold" text-anchor="start" >PtZn/CC-30 cycles</text>
<line x1="334" y1="505" x2="353" y2="505" stroke="#0000ff" stroke-width="2.4"/>
<text transform="translate(354.2,507.9) scale(1,1.06)" x="0" y="0" font-family='"Liberation Serif", serif' font-size="8.05" font-weight="bold" text-anchor="start" >PtZn/CC-40 cycles</text>
<line x1="334" y1="514.6" x2="353" y2="514.6" stroke="#ff00ff" stroke-width="2.4"/>
<text transform="translate(354.2,517.5) scale(1,1.06)" x="0" y="0" font-family='"Liberation Serif", serif' font-size="8.05" font-weight="bold" text-anchor="start" >PtZn/CC-50 cycles</text>
<line x1="334" y1="524.6" x2="353" y2="524.6" stroke="#067c06" stroke-width="2.4"/>
<text transform="translate(354.2,527.5) scale(1,1.06)" x="0" y="0" font-family='"Liberation Serif", serif' font-size="8.05" font-weight="bold" text-anchor="start" >PtZn/CC-60 cycles</text>
<text transform="translate(282.5,475.4) scale(1,0.965)" x="0" y="0" font-family='"Liberation Serif", serif' font-size="27.8" font-weight="bold" text-anchor="start" >(f)</text>
</svg>
</body></html>
